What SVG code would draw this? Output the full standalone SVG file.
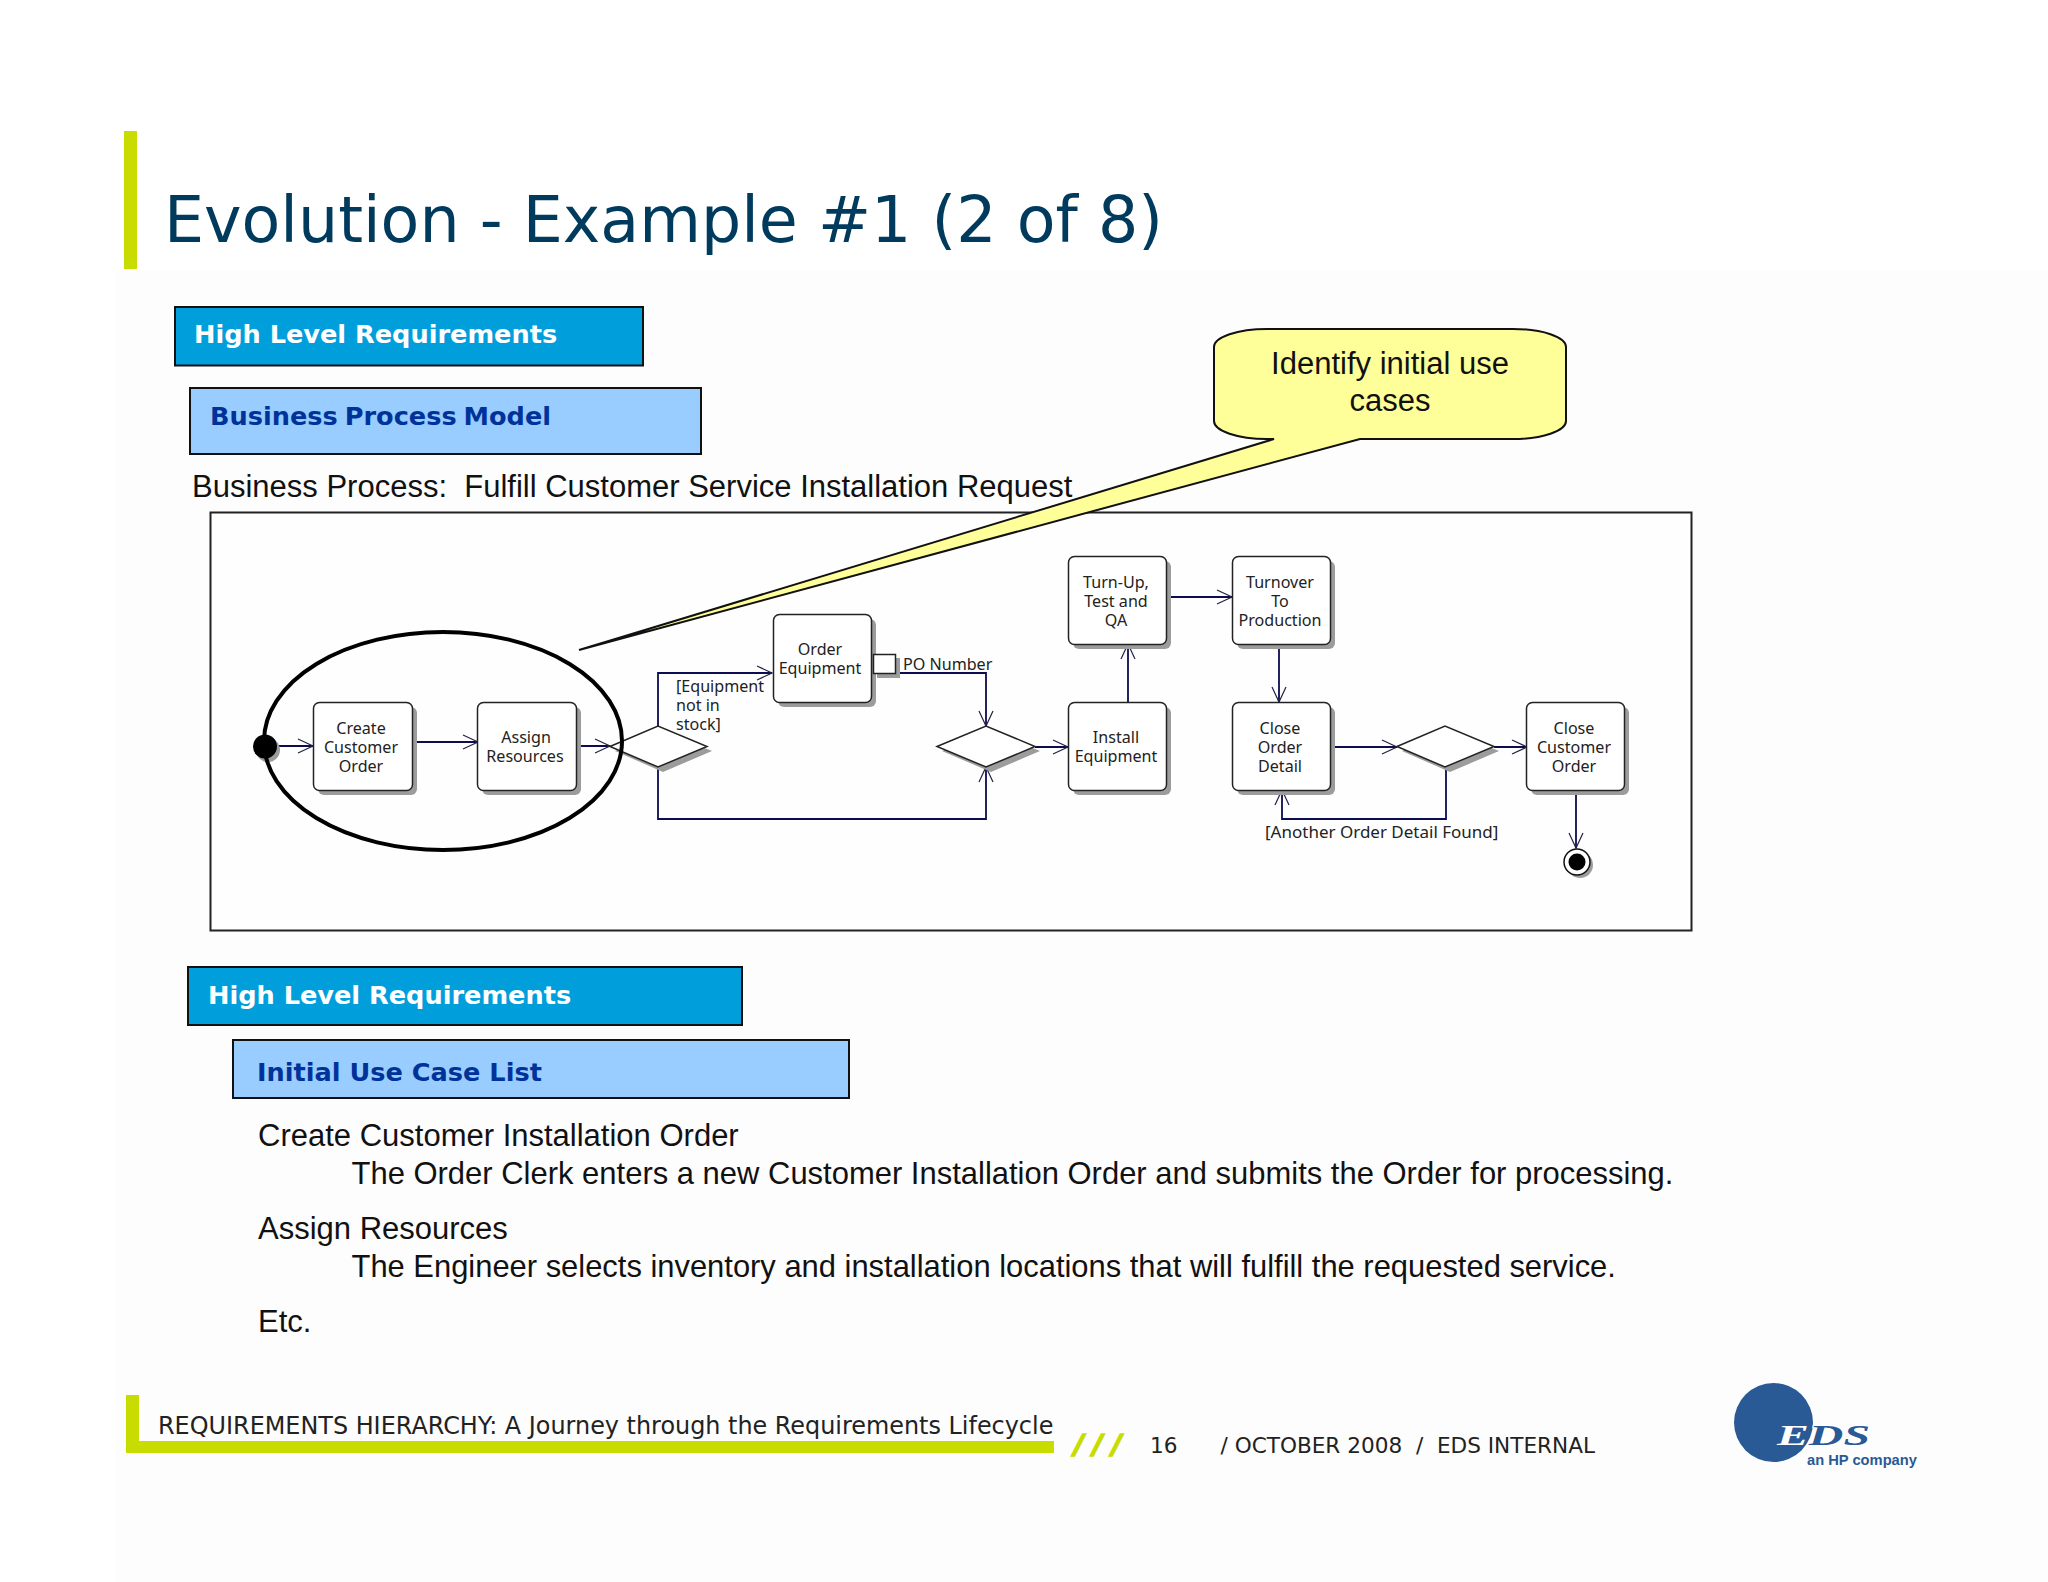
<svg xmlns="http://www.w3.org/2000/svg" width="2048" height="1582" viewBox="0 0 2048 1582">
<style>
.t{font-family:"Liberation Sans",Arial,sans-serif;font-size:31px;fill:#111}
.v{font-family:"DejaVu Sans",Verdana,sans-serif}
.hb{font-weight:bold;font-size:25.6px}
.n{font-family:"Noto Sans","Open Sans",sans-serif;font-size:16.1px;fill:#222;text-anchor:middle}
.l{font-family:"Noto Sans","Open Sans",sans-serif;font-size:16.1px;fill:#222}
.box{fill:#fff;stroke:#222;stroke-width:1.5}
.sh{fill:#9c9c9c}
.c{fill:none;stroke:#0c0c50;stroke-width:1.8}
.hd{stroke:#111;stroke-width:2}
</style>
<defs>
<marker id="a" markerUnits="userSpaceOnUse" markerWidth="20" markerHeight="20" refX="16" refY="10" orient="auto"><path d="M1 3 L16 10 L1 17" fill="none" stroke="#222244" stroke-width="1.2"/></marker>
</defs>
<rect width="2048" height="1582" fill="#fff"/>
<rect x="115" y="270" width="1933" height="1312" fill="#fdfdfd"/>
<g id="header">
<rect x="124" y="131" width="13" height="138" fill="#c8dc00"/>
<text class="v" x="164" y="242" font-size="63.400" fill="#003a5c">Evolution - Example #1 (2 of 8)</text>
</g>
<g id="hlr1"><rect class="hd" x="175" y="307" width="468" height="58.500" fill="#009fdc"/><text class="v hb" x="194" y="343" fill="#fff">High Level Requirements</text></g>
<g id="bpm"><rect class="hd" x="190" y="388" width="511" height="66" fill="#99ccff"/><text class="v hb" x="210" y="425" fill="#003399" word-spacing="-2">Business Process Model</text></g>
<text class="t" x="192" y="497" xml:space="preserve">Business Process:  Fulfill Customer Service Installation Request</text>
<rect id="panel" x="210.500" y="512.500" width="1481" height="418" fill="#fefefe" stroke="#222" stroke-width="2"/>
<g id="connectors">
<path class="c" d="M277 746H313" marker-end="url(#a)"/>
<path class="c" d="M412 742H478" marker-end="url(#a)"/>
<path class="c" d="M576 746H610" marker-end="url(#a)"/>
<path class="c" d="M658 726V673H772" marker-end="url(#a)"/>
<path class="c" d="M658 767V819H986V767" marker-end="url(#a)"/>
<path class="c" d="M895 673H986V726" marker-end="url(#a)"/>
<path class="c" d="M1035 747H1068" marker-end="url(#a)"/>
<path class="c" d="M1128 702V644" marker-end="url(#a)"/>
<path class="c" d="M1167 597H1232" marker-end="url(#a)"/>
<path class="c" d="M1279 644V702" marker-end="url(#a)"/>
<path class="c" d="M1331 747H1397" marker-end="url(#a)"/>
<path class="c" d="M1494 747H1527" marker-end="url(#a)"/>
<path class="c" d="M1446 767V819H1282V790" marker-end="url(#a)"/>
<path class="c" d="M1576 790V848" marker-end="url(#a)"/>
</g>
<g id="start"><circle class="sh" cx="268" cy="750" r="12"/><circle cx="265" cy="746.500" r="12" fill="#000"/></g>
<g id="create"><rect class="sh" x="318" y="707" width="99" height="88" rx="6"/><rect class="box" x="313.500" y="702.500" width="99" height="88" rx="6"/><text class="n" x="361" y="734">Create</text><text class="n" x="361" y="753">Customer</text><text class="n" x="361" y="772">Order</text></g>
<g id="assign"><rect class="sh" x="482" y="707" width="99" height="88" rx="6"/><rect class="box" x="477.500" y="702.500" width="99" height="88" rx="6"/><text class="n" x="526" y="743">Assign</text><text class="n" x="525" y="762">Resources</text></g>
<g id="d1"><path class="sh" d="M615 751L663 731L712 751L663 772Z"/><path class="box" d="M610 746.500L658 726L707 746.500L658 767Z"/></g>
<g id="order"><rect class="sh" x="778" y="619" width="98" height="88" rx="6"/><rect class="box" x="773.500" y="614.500" width="98" height="88" rx="6"/><text class="n" x="820" y="655">Order</text><text class="n" x="820" y="674">Equipment</text></g>
<g id="pin"><rect class="sh" x="877" y="658" width="23" height="20"/><rect class="box" x="873.500" y="654.500" width="22" height="19"/></g>
<text class="l" x="903" y="670">PO Number</text>
<text class="l"><tspan x="676" y="692">[Equipment</tspan><tspan x="676" y="711">not in</tspan><tspan x="676" y="730">stock]</tspan></text>
<g id="d2"><path class="sh" d="M942 751L991 731L1040 751L991 772Z"/><path class="box" d="M937 746.500L986 726L1035 746.500L986 767Z"/></g>
<g id="install"><rect class="sh" x="1073" y="707" width="98" height="88" rx="6"/><rect class="box" x="1068.500" y="702.500" width="98" height="88" rx="6"/><text class="n" x="1116" y="743">Install</text><text class="n" x="1116" y="762">Equipment</text></g>
<g id="turnup"><rect class="sh" x="1073" y="561" width="98" height="88" rx="6"/><rect class="box" x="1068.500" y="556.500" width="98" height="88" rx="6"/><text class="n" x="1116" y="588">Turn-Up,</text><text class="n" x="1116" y="607">Test and</text><text class="n" x="1116" y="626">QA</text></g>
<g id="turnover"><rect class="sh" x="1237" y="561" width="98" height="88" rx="6"/><rect class="box" x="1232.500" y="556.500" width="98" height="88" rx="6"/><text class="n" x="1280" y="588">Turnover</text><text class="n" x="1280" y="607">To</text><text class="n" x="1280" y="626">Production</text></g>
<g id="close"><rect class="sh" x="1237" y="707" width="98" height="88" rx="6"/><rect class="box" x="1232.500" y="702.500" width="98" height="88" rx="6"/><text class="n" x="1280" y="734">Close</text><text class="n" x="1280" y="753">Order</text><text class="n" x="1280" y="772">Detail</text></g>
<g id="d3"><path class="sh" d="M1402 751L1450 731L1499 751L1450 772Z"/><path class="box" d="M1397 746.500L1445 726L1494 746.500L1445 767Z"/></g>
<g id="closecust"><rect class="sh" x="1531" y="707" width="98" height="88" rx="6"/><rect class="box" x="1526.500" y="702.500" width="98" height="88" rx="6"/><text class="n" x="1574" y="734">Close</text><text class="n" x="1574" y="753">Customer</text><text class="n" x="1574" y="772">Order</text></g>
<text class="l" x="1265" y="838" style="font-size:17px">[Another Order Detail Found]</text>
<g id="end"><circle class="sh" cx="1580" cy="865" r="13"/><circle cx="1577" cy="862" r="13" fill="#fff" stroke="#111" stroke-width="1.5"/><circle cx="1577" cy="862" r="8.500" fill="#000"/></g>
<ellipse id="scope" cx="443" cy="741" rx="179" ry="109" fill="none" stroke="#000" stroke-width="4"/>
<g id="callout">
<path d="M1267 329H1513A53 18 0 0 1 1566 347V421A53 18 0 0 1 1513 439H1360L579 650L1274 439H1267A53 18 0 0 1 1214 421V347A53 18 0 0 1 1267 329Z" fill="#ffff99" stroke="#111" stroke-width="2"/>
<text class="t" x="1390" y="374" text-anchor="middle">Identify initial use</text>
<text class="t" x="1390" y="411" text-anchor="middle">cases</text>
</g>
<g id="hlr2"><rect class="hd" x="188" y="967" width="554" height="58" fill="#009fdc"/><text class="v hb" x="208" y="1004" fill="#fff">High Level Requirements</text></g>
<g id="ucl"><rect class="hd" x="233" y="1040" width="616" height="58" fill="#99ccff"/><text class="v hb" x="257" y="1081" fill="#003399">Initial Use Case List</text></g>
<text class="t" x="258" y="1145.500">Create Customer Installation Order</text>
<text class="t" x="351.500" y="1183.500" style="font-size:30.970px">The Order Clerk enters a new Customer Installation Order and submits the Order for processing.</text>
<text class="t" x="258" y="1238.500">Assign Resources</text>
<text class="t" x="351.500" y="1276.500" style="font-size:30.920px">The Engineer selects inventory and installation locations that will fulfill the requested service.</text>
<text class="t" x="258" y="1332">Etc.</text>
<g id="footer">
<path d="M126 1395H139V1441H1054V1453H126Z" fill="#c8dc00"/>
<text class="v" x="158" y="1434" font-size="23.900" fill="#222">REQUIREMENTS HIERARCHY: A Journey through the Requirements Lifecycle</text>
<text class="v" x="1074" y="1454" font-size="27" font-weight="bold" font-style="italic" fill="#c8dc00" stroke="#c8dc00" stroke-width="1.500" letter-spacing="9">///</text>
<text class="v" x="1150" y="1453" font-size="21.600" fill="#222">16</text>
<text class="v" x="1220.500" y="1453" font-size="21.600" fill="#222" xml:space="preserve">/ OCTOBER 2008  /  EDS INTERNAL</text>
</g>
<g id="logo">
<ellipse cx="1773.500" cy="1422.500" rx="39.500" ry="39.500" fill="#2a5a95"/>
<text x="1777" y="1445" font-family="Liberation Serif,serif" font-size="30" font-weight="bold" font-style="italic" textLength="93" lengthAdjust="spacingAndGlyphs"><tspan fill="#fff">E</tspan><tspan fill="#2a5a95" stroke="#fff" stroke-width="1.500" paint-order="stroke">DS</tspan></text>
<text x="1807" y="1465" font-family="Liberation Sans,sans-serif" font-size="14.700" font-weight="bold" fill="#2a5a95">an HP company</text>
</g>
</svg>
